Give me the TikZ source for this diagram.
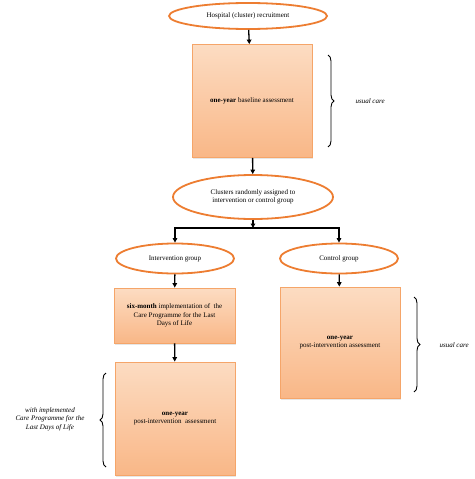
\documentclass[tikz,border=0pt]{standalone}
\usepackage{fontspec}
\setmainfont{Liberation Serif}
\usetikzlibrary{shapes.geometric,arrows.meta,decorations.pathreplacing,shadows}
\definecolor{ringorange}{RGB}{237,125,49}
\definecolor{boxtop}{RGB}{252,220,194}
\definecolor{boxbot}{RGB}{249,183,135}
\definecolor{boxline}{RGB}{245,165,105}
\begin{document}
\begin{tikzpicture}[x=1pt,y=-1pt,
  every node/.style={font=\fontsize{7}{8.5}\selectfont},
  oval/.style={ellipse, draw=ringorange, line width=1.8pt, fill=white, inner sep=0pt, align=center},
  panel/.style={rectangle, draw=boxline, line width=0.8pt, top color=boxtop, bottom color=boxbot, align=center, inner sep=2pt,
    drop shadow={opacity=0.2, shadow xshift=1pt, shadow yshift=-1.5pt}},
  arr/.style={-{Triangle[length=4.5pt,width=4.5pt]}, line width=1.3pt},
  bar/.style={line width=1.3pt},
  brace/.style={decorate, decoration={brace, amplitude=6pt}, line width=0.9pt},
  note/.style={font=\fontsize{7}{8.5}\itshape\selectfont, align=center}]
\useasboundingbox (0,0) rectangle (474,479);

% ovals
\node[oval, minimum width=158pt, minimum height=26pt] (hosp) at (248,16) {Hospital (cluster) recruitment};
\node[oval, minimum width=160pt, minimum height=44pt] (rand) at (253,197) {Clusters randomly assigned to\\intervention or control group};
\node[oval, minimum width=118pt, minimum height=30pt] (interv) at (175,258.5) {Intervention group};
\node[oval, minimum width=118pt, minimum height=30pt] (ctrl) at (339,258.5) {Control group};

% boxes
\node[panel, minimum width=120pt, minimum height=113pt] (base) at (252,101) {\textbf{one-year} baseline assessment};
\node[panel, minimum width=121pt, minimum height=55pt] (impl) at (174.5,315.5) {\textbf{six-month} implementation of~ the\\Care Programme for the Last\\Days of Life};
\node[panel, minimum width=120pt, minimum height=113pt] (postI) at (175,418.5) {\textbf{one-year}\\post-intervention~ assessment};
\node[panel, minimum width=120pt, minimum height=111pt] (postC) at (340,342.5) {\textbf{one-year}\\post-intervention assessment};

% connectors
\coordinate (split) at (253,228);
\draw[arr] (hosp) -- (base);
\draw[arr] (base) -- (rand);
\draw[arr] (rand) -- (split);
\draw[arr] (split) -| (interv.north);
\draw[arr] (split) -| (ctrl.north);
\draw[arr] (interv) -- (impl);
\draw[arr] (impl) -- (postI);
\draw[arr] (ctrl) -- (postC);

% braces and notes
\coordinate (b1a) at (328,55);
\coordinate (b1b) at (328,147);
\draw[brace] (b1a) -- (b1b);
\node[note, anchor=west] (n1) at (352,101) {usual care};

\coordinate (b2a) at (414,297);
\coordinate (b2b) at (414,392);
\draw[brace] (b2a) -- (b2b);
\node[note, anchor=west] (n2) at (436,345) {usual care};

\coordinate (b3a) at (106,467);
\coordinate (b3b) at (106,373);
\draw[brace] (b3a) -- (b3b);
\node[note] (n3) at (50,419) {with implemented\\Care Programme for the\\Last Days of Life};
\end{tikzpicture}
\end{document}
